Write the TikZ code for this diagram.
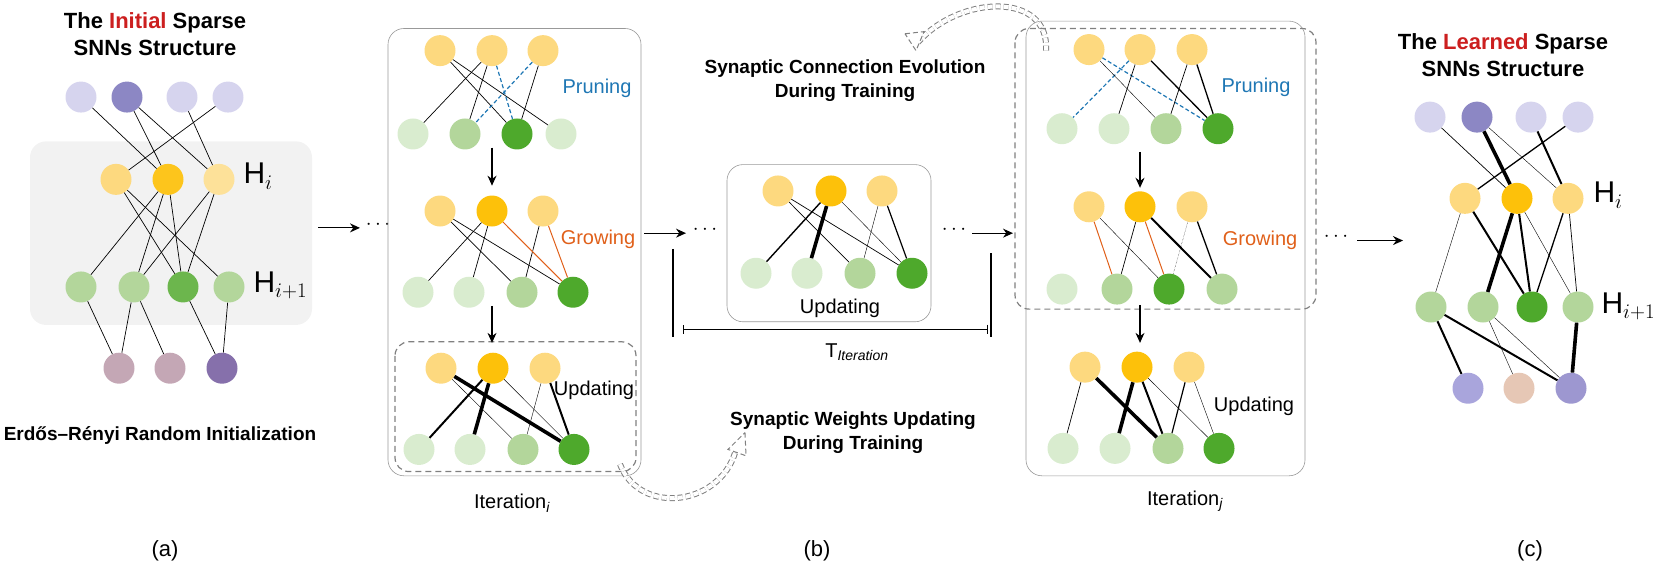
\documentclass[tikz,border=0pt]{standalone}
\usepackage{fontspec}
\setmainfont{Liberation Sans}
\usetikzlibrary{arrows.meta}
\definecolor{lav}{HTML}{D6D4EE}
\definecolor{purp}{HTML}{8C87C4}
\definecolor{ylt}{HTML}{FDD97F}
\definecolor{ydk}{HTML}{FDC10A}
\definecolor{gvl}{HTML}{D9ECCF}
\definecolor{gmd}{HTML}{B3D69B}
\definecolor{gdk}{HTML}{4EA92C}
\definecolor{prunc}{HTML}{1F77B4}
\definecolor{growc}{HTML}{E0601A}
\definecolor{redt}{HTML}{CC1F1F}
\tikzset{
 n/.style={circle,minimum size=31pt,inner sep=0pt,draw=none},
 e/.style={line width=0.7pt},
 et/.style={line width=0.4pt},
 ek/.style={line width=2pt},
 ev/.style={line width=3.6pt},
 ep/.style={prunc,line width=1.2pt,dash pattern=on 4pt off 2.5pt},
 eg/.style={growc,line width=1pt},
 arr/.style={-{Stealth[length=10pt,width=9pt]},line width=1.2pt},
 dbox/.style={draw=gray,line width=1.2pt,dash pattern=on 6pt off 4pt,rounded corners=14pt},
 box/.style={draw=gray!80,line width=0.6pt,rounded corners=16pt},
 ttl/.style={font=\fontsize{22}{27}\selectfont\bfseries,align=center},
 sub/.style={font=\fontsize{19}{24}\selectfont\bfseries,align=center},
 lab/.style={font=\fontsize{20}{24}\selectfont},
 hl/.style={font=\fontsize{30}{32}\selectfont},
 curl/.style={draw=gray,line width=1pt,dash pattern=on 5pt off 3pt,double=white,double distance=4pt},
}
\begin{document}
\begin{tikzpicture}[x=1pt,y=-1.055pt]
\useasboundingbox (0,0) rectangle (1656,538.4);
% ---------- (a)
\fill[gray!10,rounded corners=16pt] (30,134) rectangle (312,308);
\node[ttl] (ta) at (155,32) {The {\color{redt}Initial} Sparse\\SNNs Structure};
\foreach \x/\c/\k in {81/lav/1,127/purp/2,182/lav/3,228/lav/4} \node[n,fill=\c] (at\k) at (\x,92) {};
\foreach \x/\c/\k in {116/ylt/1,168/ydk!85!ylt/2,219/ylt!80!white/3} \node[n,fill=\c] (ah\k) at (\x,170) {};
\foreach \x/\c/\k in {81/gmd/1,134/gmd/2,183/gdk!70!gmd/3,229/gmd/4} \node[n,fill=\c] (ag\k) at (\x,272) {};
\definecolor{mauve}{RGB}{196,167,181}\definecolor{dpur}{RGB}{134,112,171}
\foreach \x/\c/\k in {119/mauve/1,170/mauve/2,222/dpur/3} \node[n,fill=\c] (ab\k) at (\x,349) {};
\foreach \a/\b in {at1/ah2,at2/ah2,at2/ah3,at3/ah3,at4/ah1,ah1/ag3,ah1/ag4,ah2/ag1,ah2/ag2,ah2/ag3,ah3/ag2,ah3/ag3,ag1/ab1,ag2/ab1,ag2/ab2,ag3/ab3,ag4/ab3} \draw[e] (\a) -- (\b);
\node[hl,anchor=west] (ahl) at (240,167) {H$_i$};
\node[hl,anchor=west] (ahl2) at (250,270) {H$_{i+1}$};
\node[sub] (er) at (160,413) {Erdős–Rényi Random Initialization};
\node[lab,font=\fontsize{22}{24}\selectfont] (la) at (165,522) {(a)};
\draw[arr] (318,216) -- (360,216);
\node[lab] (d1) at (378,213) {$\cdots$};
% ---------- iteration i
\draw[box] (388,27) rectangle (641,451);
\draw[dbox] (395,324) rectangle (636,447);
\foreach \x/\k in {440/1,492/2,543/3} \node[n,fill=ylt] (p\k) at (\x,48) {};
\foreach \x/\c/\k in {413/gvl/1,465/gmd/2,517/gdk/3,561/gvl/4} \node[n,fill=\c] (q\k) at (\x,127) {};
\foreach \a/\b in {p1/q3,p1/q4,p2/q1,p2/q2,p3/q3} \draw[e] (\a) -- (\b);
\draw[ep] (p2) -- (q3); \draw[ep] (p3) -- (q2);
\node[lab,text=prunc] (pr1) at (597,84) {Pruning};
\draw[arr] (492,140) -- (492,176);
\foreach \x/\c/\k in {440/ylt/1,492/ydk/2,543/ylt/3} \node[n,fill=\c] (r\k) at (\x,200) {};
\foreach \x/\c/\k in {418/gvl/1,469/gvl/2,522/gmd/3,573/gdk/4} \node[n,fill=\c] (s\k) at (\x,277) {};
\foreach \a/\b in {r1/s3,r1/s4,r2/s1,r2/s2,r3/s3} \draw[e] (\a) -- (\b);
\draw[eg] (r2) -- (s4); \draw[eg] (r3) -- (s4);
\node[lab,text=growc] (gr1) at (598,227) {Growing};
\draw[arr] (492,290) -- (492,325);
\foreach \x/\c/\k in {441/ylt/1,493/ydk/2,545/ylt/3} \node[n,fill=\c] (u\k) at (\x,349) {};
\foreach \x/\c/\k in {419/gvl/1,470/gvl/2,523/gmd/3,574/gdk/4} \node[n,fill=\c] (v\k) at (\x,426) {};
\draw[ev] (u1) -- (v4); \draw[ek] (u2) -- (v1); \draw[ev] (u2) -- (v2); \draw[et] (u2) -- (v4);
\draw[et] (u1) -- (v3); \draw[et] (u3) -- (v3); \draw[ek] (u3) -- (v4);
\node[lab] (up1) at (594,370) {Updating};
\node[lab] (it1) at (512,477) {Iteration$_{\mathit{i}}$};
% ---------- middle
\draw[arr] (644,221) -- (686,221);
\node[lab] (d2) at (705,218) {$\cdots$};
\draw[box] (727,156) rectangle (931,305);
\foreach \x/\c/\k in {778/ylt/1,831/ydk/2,882/ylt/3} \node[n,fill=\c] (m\k) at (\x,181) {};
\foreach \x/\c/\k in {756/gvl/1,807/gvl/2,860/gmd/3,912/gdk/4} \node[n,fill=\c] (w\k) at (\x,259) {};
\draw[e] (m1) -- (w3); \draw[e] (m1) -- (w4); \draw[line width=1.4pt] (m2) -- (w1); \draw[ev] (m2) -- (w2);
\draw[et] (m2) -- (w4); \draw[et] (m3) -- (w3); \draw[line width=1.2pt] (m3) -- (w4);
\node[lab] (up2) at (840,292) {Updating};
\node[lab] (d3) at (954,218) {$\cdots$};
\draw[arr] (972,221) -- (1013,221);
\coordinate (vl1a) at (673,236); \coordinate (vl1b) at (673,319);
\coordinate (vl2a) at (991,240); \coordinate (vl2b) at (991,319);
\draw[line width=1.2pt] (vl1a) -- (vl1b); \draw[line width=1.2pt] (vl2a) -- (vl2b);
\coordinate (dm1) at (683,312); \coordinate (dm2) at (988,312);
\draw[line width=1.2pt,{Bar[width=9pt]}-{Bar[width=9pt]}] (dm1) -- (dm2);
\node[lab] (tit) at (857,334) {T$_{\mathit{Iteration}}$};
\node[sub] (sce) at (845,76) {Synaptic Connection Evolution\\During Training};
\node[sub] (swu) at (853,410) {Synaptic Weights Updating\\During Training};
% curly dashed arrows
\coordinate (c1a) at (1046,48); \coordinate (c1b) at (918,40);
\draw[curl] (c1a) .. controls (1050,-8) and (960,-5) .. (c1b);
\draw[draw=gray,line width=1pt,dash pattern=on 5pt off 3pt,fill=white] (905,32) -- (924,30) -- (916,48) -- cycle;
\coordinate (c2a) at (620,440); \coordinate (c2b) at (737,422);
\draw[curl] (c2a) .. controls (640,490) and (725,480) .. (c2b);
\draw[draw=gray,line width=1pt,dash pattern=on 5pt off 3pt,fill=white] (745,410) -- (746,432) -- (728,426) -- cycle;
% ---------- iteration j
\draw[box] (1026,20) rectangle (1305,451);
\draw[dbox] (1015,27) rectangle (1316,293);
\foreach \x/\k in {1089/1,1140/2,1192/3} \node[n,fill=ylt] (P\k) at (\x,47) {};
\foreach \x/\c/\k in {1062/gvl/1,1114/gvl/2,1166/gmd/3,1218/gdk/4} \node[n,fill=\c] (Q\k) at (\x,122) {};
\draw[ep] (P1) -- (Q4); \draw[ep] (P2) -- (Q1);
\draw[et] (P1) -- (Q3); \draw[e] (P2) -- (Q2); \draw[line width=1.3pt] (P2) -- (Q4); \draw[e] (P3) -- (Q3); \draw[line width=1.3pt] (P3) -- (Q4);
\node[lab,text=prunc] (pr2) at (1256,83) {Pruning};
\draw[arr] (1140,144) -- (1140,178);
\foreach \x/\c/\k in {1089/ylt/1,1140/ydk/2,1192/ylt/3} \node[n,fill=\c] (R\k) at (\x,196) {};
\foreach \x/\c/\k in {1062/gvl/1,1117/gmd/2,1169/gdk/3,1222/gmd/4} \node[n,fill=\c] (S\k) at (\x,274) {};
\draw[eg] (R1) -- (S2); \draw[et] (R1) -- (S3); \draw[e] (R2) -- (S2); \draw[eg] (R2) -- (S3);
\draw[ek] (R2) -- (S4); \draw[et,densely dotted] (R3) -- (S3); \draw[line width=1.3pt] (R3) -- (S4);
\node[lab,text=growc] (gr2) at (1260,228) {Growing};
\draw[arr] (1140,289) -- (1140,325);
\foreach \x/\c/\k in {1085/ylt/1,1137/ydk/2,1189/ylt/3} \node[n,fill=\c] (U\k) at (\x,348) {};
\foreach \x/\c/\k in {1063/gvl/1,1115/gvl/2,1168/gmd/3,1219/gdk/4} \node[n,fill=\c] (V\k) at (\x,425) {};
\draw[e] (U1) -- (V1); \draw[ev] (U1) -- (V3); \draw[ev] (U2) -- (V2); \draw[ek] (U2) -- (V3);
\draw[et] (U2) -- (V4); \draw[line width=1.2pt] (U3) -- (V3); \draw[et] (U3) -- (V4);
\node[lab] (up3) at (1254,385) {Updating};
\node[lab] (it2) at (1185,475) {Iteration$_{\mathit{j}}$};
% ---------- (c)
\node[lab] (d4) at (1336,225) {$\cdots$};
\draw[arr] (1357,228) -- (1403,228);
\node[ttl] (tc) at (1503,52) {The {\color{redt}Learned} Sparse\\SNNs Structure};
\definecolor{cb1c}{RGB}{169,165,220}\definecolor{cb2c}{RGB}{230,199,181}\definecolor{cb3c}{RGB}{157,151,208}
\foreach \x/\c/\k in {1430/lav/1,1477/purp/2,1531/lav/3,1578/lav/4} \node[n,fill=\c] (ct\k) at (\x,111) {};
\foreach \x/\c/\k in {1465/ylt/1,1517/ydk/2,1568/ylt/3} \node[n,fill=\c] (ch\k) at (\x,188) {};
\foreach \x/\c/\k in {1431/gmd/1,1483/gmd/2,1532/gdk/3,1578/gmd/4} \node[n,fill=\c] (cg\k) at (\x,291) {};
\foreach \x/\c/\k in {1468/cb1c/1,1519/cb2c/2,1571/cb3c/3} \node[n,fill=\c] (cb\k) at (\x,368) {};
\draw[e] (ct1) -- (ch2); \draw[ev] (ct2) -- (ch2); \draw[et] (ct2) -- (ch3); \draw[ek] (ct3) -- (ch3); \draw[line width=1.3pt] (ct4) -- (ch1);
\draw[et] (ch1) -- (cg1); \draw[ek] (ch1) -- (cg3); \draw[ev] (ch2) -- (cg2); \draw[ek] (ch2) -- (cg3);
\draw[et] (ch2) -- (cg4); \draw[line width=1.3pt] (ch3) -- (cg3); \draw[e] (ch3) -- (cg4);
\draw[ek] (cg1) -- (cb1); \draw[ek] (cg1) -- (cb3); \draw[et] (cg2) -- (cb2); \draw[et] (cg2) -- (cb3); \draw[ev] (cg4) -- (cb3);
\node[hl,anchor=west] (chl) at (1590,185) {H$_i$};
\node[hl,anchor=west] (chl2) at (1598,290) {H$_{i+1}$};
\node[lab,font=\fontsize{22}{24}\selectfont] (lc) at (1530,522) {(c)};
\node[lab,font=\fontsize{22}{24}\selectfont] (lb) at (817,522) {(b)};
\end{tikzpicture}
\end{document}
